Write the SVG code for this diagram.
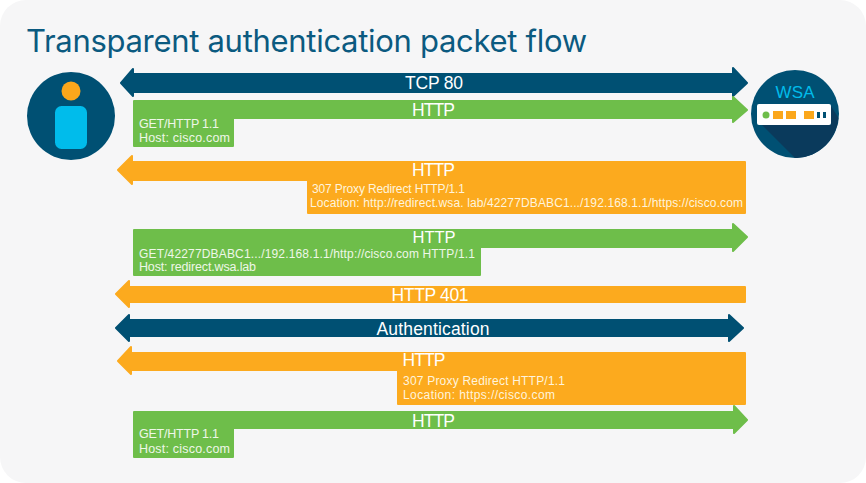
<svg xmlns="http://www.w3.org/2000/svg" width="866" height="483" viewBox="0 0 866 483">
<style>
text{font-family:"Liberation Sans",Arial,sans-serif;fill:#fff}
.t{font-size:17.5px;text-anchor:middle}
.s{font-size:12.5px;fill:#eef7e8}
.l{font-size:12px;fill:#fff4dd}
.g{fill:#6ebe4a}.o{fill:#fcaa1e}.b{fill:#005073}
.arr{stroke-linejoin:round;stroke-width:2}
.g.arr{stroke:#6ebe4a}.o.arr{stroke:#fcaa1e}.b.arr{stroke:#005073}
</style>
<rect width="866" height="483" fill="#fff"/>
<rect x="0" y="0" width="866" height="483" rx="26" fill="#f6f6f7"/>
<text x="26" y="52" textLength="561" style="font-family:Inter,'Liberation Sans',sans-serif;font-weight:400;font-size:31px;fill:#0b5a80">Transparent authentication packet flow</text>
<g id="client">
<circle cx="71" cy="116" r="44" fill="#005073"/>
<circle cx="71" cy="91" r="9.5" fill="#fba71b"/>
<rect x="55" y="106" width="32" height="43" rx="6.5" fill="#00bceb"/>
</g>
<g id="wsa">
<circle cx="795" cy="114" r="44" fill="#005073"/>
<path d="M762 125H831V106L838.5 118A44 44 0 0 1 797 158H795Z" fill="#0a3a5c"/>
<rect x="757" y="104" width="74" height="21" rx="2" fill="#fff"/>
<circle cx="766" cy="115" r="3.5" fill="#6ebe4a"/>
<rect x="773" y="111" width="10" height="8" fill="#fba71b"/>
<rect x="786" y="111" width="10" height="8" fill="#fba71b"/>
<rect x="804" y="111" width="10" height="8" fill="#fba71b"/>
<rect x="817" y="112" width="3" height="6" fill="#005073"/>
<rect x="823" y="112" width="3" height="6" fill="#005073"/>
<text x="795" y="98" textLength="39" style="font-size:17px;text-anchor:middle;fill:#00bceb">WSA</text>
</g>
<g id="connectors">
<g id="tcp80">
<path class="b arr" d="M121 83L133 69V74H733V68L747 83L733 96V92H133V96Z"/>
<text class="t" x="434" y="89" textLength="58">TCP 80</text>
</g>
<g id="http1">
<path class="g arr" d="M134 101H733V97L747 110L733 122V118H233V146H134Z"/>
<text class="t" x="433.500" y="116" textLength="43">HTTP</text>
<text class="s" x="139" y="128" textLength="80">GET/HTTP 1.1</text>
<text class="s" x="139" y="142" textLength="91">Host: cisco.com</text>
</g>
<g id="redirect1">
<path class="o arr" d="M118 170L132 156V162H745V213H308V180H132V184Z"/>
<text class="t" x="433.500" y="176" textLength="43">HTTP</text>
<text class="l" x="312" y="193" textLength="153">307 Proxy Redirect HTTP/1.1</text>
<text class="l" x="310" y="207" textLength="433">Location: http://redirect.wsa. lab/42277DBABC1.../192.168.1.1/https://cisco.com</text>
</g>
<g id="http2">
<path class="g arr" d="M134 230H733V224L747 237L733 251V247H480V275H134Z"/>
<text x="434" y="243" textLength="43" style="font-size:16.5px;text-anchor:middle">HTTP</text>
<text x="139" y="257.500" textLength="336" style="font-size:12px;fill:#eef7e8">GET/42277DBABC1.../192.168.1.1/http://cisco.com HTTP/1.1</text>
<text class="s" x="139" y="270.500" textLength="117">Host: redirect.wsa.lab</text>
</g>
<g id="http401">
<path class="o arr" d="M116 294L129 281V287H745V302H129V307Z"/>
<text class="t" x="430" y="301" textLength="77">HTTP 401</text>
</g>
<g id="auth">
<path class="b arr" d="M116 328L129 315V320H729V315L743 328L729 341V336H129V341Z"/>
<text class="t" x="433" y="335" textLength="113">Authentication</text>
</g>
<g id="redirect2">
<path class="o arr" d="M118 361L131 347V353H745V404H398V370H131V374Z"/>
<text class="t" x="424" y="366" textLength="43">HTTP</text>
<text class="l" x="403" y="385" textLength="162">307 Proxy Redirect HTTP/1.1</text>
<text class="l" x="403" y="399" textLength="152">Location: https://cisco.com</text>
</g>
<g id="http3">
<path class="g arr" d="M134 412H734V406L747 420L734 433V428H233V457H134Z"/>
<text class="t" x="433.500" y="427" textLength="43">HTTP</text>
<text class="s" x="139" y="438" textLength="80">GET/HTTP 1.1</text>
<text class="s" x="139" y="453" textLength="91">Host: cisco.com</text>
</g>
</g>
</svg>
